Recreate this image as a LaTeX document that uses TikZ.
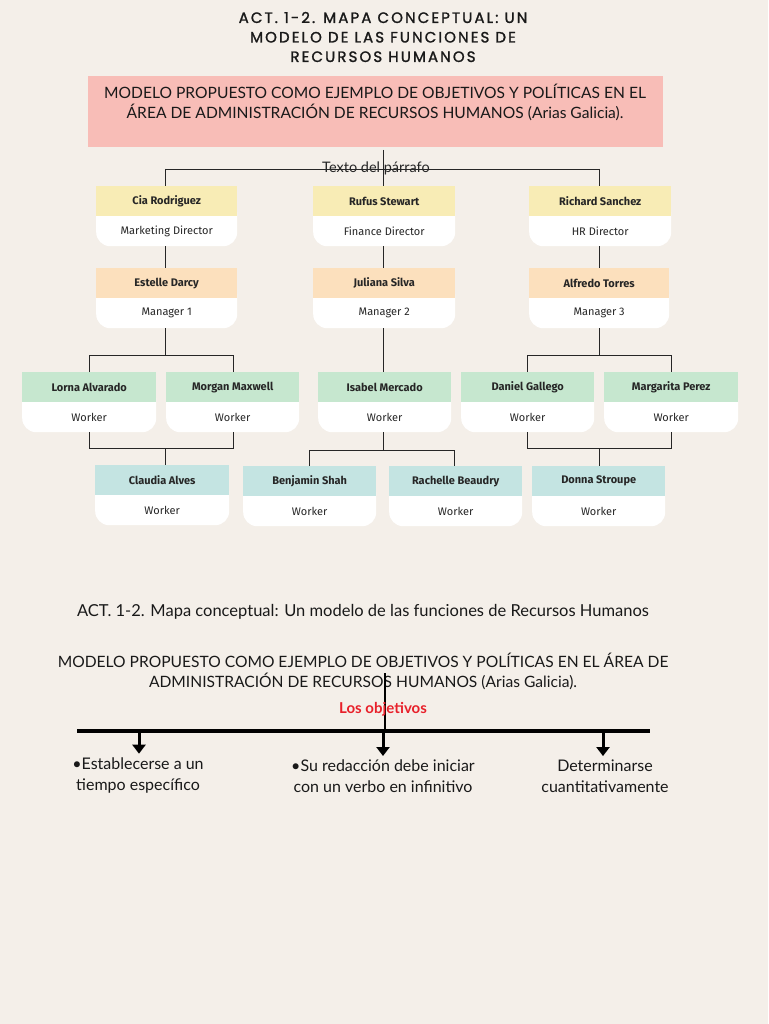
\documentclass[tikz,border=0pt]{standalone}
\usepackage{fontspec}
\setmainfont{Lato}
\newfontfamily\titlefont[LetterSpace=14,FakeBold=1.5]{Poppins}
\newfontfamily\cardfont{Fira Sans}
\usetikzlibrary{arrows.meta}
\definecolor{bg}{HTML}{F4EFE9}
\definecolor{pinkc}{HTML}{F8BDB7}
\definecolor{yel}{HTML}{F8ECB5}
\definecolor{ora}{HTML}{FCE0BD}
\definecolor{gre}{HTML}{C6E7CF}
\definecolor{tea}{HTML}{C4E4E2}
\definecolor{redt}{HTML}{E8202A}
\tikzset{
  conn/.style={draw=black!85, line width=0.9pt},
  headc/.style={fill=#1, minimum height=30pt, inner sep=0pt, font=\cardfont\fontsize{11}{13}\selectfont\bfseries, text=black!85},
  bodyc/.style={fill=white, rounded corners=14pt, inner sep=0pt},
  hline/.style={line width=3.4pt, black},
  arr/.style={line width=3pt, -{Triangle[length=9pt,width=13pt]}},
  btxt/.style={align=center, font=\fontsize{16}{21}\selectfont, text=black!90}
}
\newcommand{\cardnode}[7]{%
  \node[bodyc, minimum width=#3-#2, minimum height=46pt, anchor=north west] (#1b) at (#2,#4+14) {};
  \node[anchor=center, text=black!85] at ([yshift=-8pt]#1b.center) {\cardfont\fontsize{11}{13}\selectfont #6};
  \node[headc=#7, minimum width=#3-#2, anchor=north west] (#1) at (#2,#4) {#5};
}
\begin{document}
\begin{tikzpicture}[x=1pt,y=-1pt]
\fill[bg] (0,0) rectangle (768,1024);
\useasboundingbox (0,0) rectangle (768,1024);
\node[align=center, font=\titlefont\fontsize{15}{19.5}\selectfont, text=black!90] (title) at (383,37)
  {ACT. 1-2. MAPA CONCEPTUAL: UN\\MODELO DE LAS FUNCIONES DE\\RECURSOS HUMANOS};
\node[fill=pinkc, minimum width=575pt, minimum height=71pt, anchor=north west, inner sep=0pt] (pink) at (88,76) {};
\node[align=center, font=\fontsize{15.6}{20}\selectfont, text=black!90] at (375,102)
  {MODELO PROPUESTO COMO EJEMPLO DE OBJETIVOS Y POLÍTICAS EN EL\\ÁREA DE ADMINISTRACIÓN DE RECURSOS HUMANOS (Arias Galicia).};
\cardnode{cia}{96}{237}{186}{Cia Rodriguez}{Marketing Director}{yel}
\cardnode{rufus}{313}{455}{186}{Rufus Stewart}{Finance Director}{yel}
\cardnode{rich}{529}{671}{186}{Richard Sanchez}{HR Director}{yel}
\cardnode{est}{96}{237}{268}{Estelle Darcy}{Manager 1}{ora}
\cardnode{jul}{313}{455}{268}{Juliana Silva}{Manager 2}{ora}
\cardnode{alf}{529}{669}{268}{Alfredo Torres}{Manager 3}{ora}
\cardnode{lor}{22}{156}{372}{Lorna Alvarado}{Worker}{gre}
\cardnode{mor}{166}{299}{372}{Morgan Maxwell}{Worker}{gre}
\cardnode{isa}{318}{451}{372}{Isabel Mercado}{Worker}{gre}
\cardnode{dan}{461}{594}{372}{Daniel Gallego}{Worker}{gre}
\cardnode{mar}{604}{738}{372}{Margarita Perez}{Worker}{gre}
\cardnode{cla}{95}{229}{465}{Claudia Alves}{Worker}{tea}
\cardnode{ben}{243}{376}{466}{Benjamin Shah}{Worker}{tea}
\cardnode{rac}{389}{522}{466}{Rachelle Beaudry}{Worker}{tea}
\cardnode{don}{532}{665}{466}{Donna Stroupe}{Worker}{tea}
\coordinate (jl) at (165,169); \coordinate (jr) at (599,169);
\draw[conn] (jl) -- (cia.north -| jl);
\draw[conn] (jr) -- (rich.north -| jr);
\draw[conn] (jl) -- (jr);
\draw[conn] (383,150) -- (rufus.north -| 383,0);
\node[font=\fontsize{14.5}{16}\selectfont, text=black!85] (texto) at (376,168) {Texto del párrafo};
\draw[conn] (ciab.south -| 165,0) -- (est.north -| 165,0);
\draw[conn] (rufusb.south -| 383,0) -- (jul.north -| 383,0);
\draw[conn] (richb.south -| 599,0) -- (alf.north -| 599,0);
\draw[conn] (estb.south -| 165,0) -- (165,355);
\draw[conn] (lor.north -| 89,0) |- (233,355) -- (mor.north -| 233,0);
\draw[conn] (julb.south -| 383,0) -- (isa.north -| 383,0);
\draw[conn] (alfb.south -| 599,0) -- (599,355);
\draw[conn] (dan.north -| 527,0) |- (671,355) -- (mar.north -| 671,0);
\draw[conn] (lorb.south -| 89,0) |- (233,448) -- (morb.south -| 233,0);
\draw[conn] (165,448) -- (cla.north -| 165,0);
\draw[conn] (isab.south -| 383,0) -- (383,450);
\draw[conn] (ben.north -| 309,0) |- (454,450) -- (rac.north -| 454,0);
\draw[conn] (danb.south -| 527,0) |- (671,448) -- (marb.south -| 671,0);
\draw[conn] (599,448) -- (don.north -| 599,0);
\node[font=\fontsize{16.5}{18}\selectfont, text=black!90] (act) at (363,612) {ACT. 1-2. Mapa conceptual: Un modelo de las funciones de Recursos Humanos};
\node[align=center, font=\fontsize{15.6}{20}\selectfont, text=black!90] (mod) at (363,671)
  {MODELO PROPUESTO COMO EJEMPLO DE OBJETIVOS Y POLÍTICAS EN EL ÁREA DE\\ADMINISTRACIÓN DE RECURSOS HUMANOS (Arias Galicia).};
\coordinate (hl) at (77,731); \coordinate (hr) at (650,731);
\draw[hline] (hl) -- (hr);
\draw[line width=2.6pt] (385,673) -- (385,731);
\node[font=\fontsize{15}{16}\selectfont\bfseries, text=redt] (obj) at (383,709) {Los objetivos};
\node[btxt] (t1) at (138,775) {•Establecerse a un\\tiempo específico};
\node[btxt] (t2) at (383,776) {•Su redacción debe iniciar\\con un verbo en infinitivo};
\node[btxt] (t3) at (605,776) {Determinarse\\cuantitativamente};
\draw[arr] (139,733) -- (t1.north -| 139,0);
\draw[arr] (383,733) -- (t2.north -| 383,0);
\draw[arr] (603,733) -- (t3.north -| 603,0);
\end{tikzpicture}
\end{document}
